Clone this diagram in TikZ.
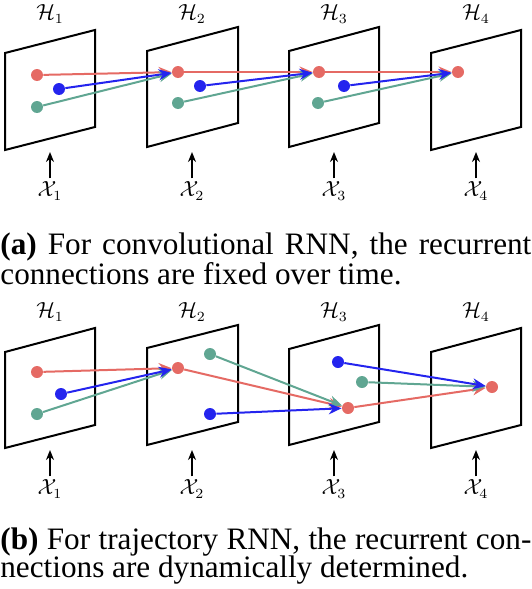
\documentclass[tikz,border=0pt]{standalone}
\usepackage{amsmath}
\usepackage{fontspec}
\setmainfont{Liberation Serif}
\usetikzlibrary{arrows.meta, positioning}

\definecolor{trajred}{RGB}{229,106,100}
\definecolor{trajblue}{RGB}{36,36,238}
\definecolor{trajgreen}{RGB}{96,166,146}

\tikzset{
    plane/.style={draw, line width=1pt, line join=miter},
    spot/.style={circle, inner sep=0pt, minimum size=6pt},
    flow/.style={line width=1pt, -{Stealth[length=6.5pt, width=5.5pt]}},
    feed/.style={line width=0.9pt, -{Stealth[length=5pt, width=4pt]}},
    lab/.style={inner sep=1.5pt, font=\fontsize{10.5}{11}\selectfont},
    captext/.style={inner sep=0pt, text width=265.5pt, align=justify, font=\fontsize{15.6}{14.2}\selectfont},
}

\begin{document}
\begin{tikzpicture}[x=0.5pt, y=-0.5pt]
    \useasboundingbox (0,0) rectangle (531,589);

    % (a) convolutional RNN
    \draw[plane] (5,53) -- (95,30) -- (95,127) -- (5,150) -- cycle;
    \draw[plane] (147,51) -- (238,27) -- (238,123) -- (147,147) -- cycle;
    \draw[plane] (289,51) -- (379,27) -- (379,123) -- (289,147) -- cycle;
    \draw[plane] (431,53) -- (521,30) -- (521,127) -- (431,150) -- cycle;

    \node[lab] (ha1) at (50,14) {$\mathcal{H}_1$};
    \node[lab] (ha2) at (192,14) {$\mathcal{H}_2$};
    \node[lab] (ha3) at (334,14) {$\mathcal{H}_3$};
    \node[lab] (ha4) at (476,14) {$\mathcal{H}_4$};

    \node[lab] (xa1) at (50,191) {$\mathcal{X}_1$};
    \node[lab] (xa2) at (192,191) {$\mathcal{X}_2$};
    \node[lab] (xa3) at (334,191) {$\mathcal{X}_3$};
    \node[lab] (xa4) at (476,191) {$\mathcal{X}_4$};
    \coordinate (ta1) at (50,152);
    \coordinate (ta2) at (192,152);
    \coordinate (ta3) at (334,152);
    \coordinate (ta4) at (476,152);
    \draw[feed] (xa1) to (ta1);
    \draw[feed] (xa2) to (ta2);
    \draw[feed] (xa3) to (ta3);
    \draw[feed] (xa4) to (ta4);

    \node[spot, fill=trajred] (ar1) at (37,75) {};
    \node[spot, fill=trajblue] (ab1) at (59,89) {};
    \node[spot, fill=trajgreen] (ag1) at (37,107) {};
    \node[spot, fill=trajred] (ar2) at (178,72) {};
    \node[spot, fill=trajblue] (ab2) at (200,86) {};
    \node[spot, fill=trajgreen] (ag2) at (178,103) {};
    \node[spot, fill=trajred] (ar3) at (319,72) {};
    \node[spot, fill=trajblue] (ab3) at (344,86) {};
    \node[spot, fill=trajgreen] (ag3) at (318,103) {};
    \node[spot, fill=trajred] (ar4) at (458,72) {};

    \draw[flow, trajred] (ar1) to (ar2);
    \draw[flow, trajred] (ar2) to (ar3);
    \draw[flow, trajred] (ar3) to (ar4);
    \draw[flow, trajgreen] (ag1) to (ar2);
    \draw[flow, trajgreen] (ag2) to (ar3);
    \draw[flow, trajgreen] (ag3) to (ar4);
    \draw[flow, trajblue] (ab1) to (ar2);
    \draw[flow, trajblue] (ab2) to (ar3);
    \draw[flow, trajblue] (ab3) to (ar4);

    \node[captext, anchor=north west] (capa) at (0,232)
        {\textbf{(a)} For convolutional RNN, the recurrent\linebreak connections are fixed over time.};

    % (b) trajectory RNN
    \draw[plane] (5,352) -- (95,328) -- (95,425) -- (5,448) -- cycle;
    \draw[plane] (147,348) -- (238,325) -- (238,422) -- (147,445) -- cycle;
    \draw[plane] (289,349) -- (379,325) -- (379,422) -- (289,445) -- cycle;
    \draw[plane] (431,352) -- (521,328) -- (521,425) -- (431,448) -- cycle;

    \node[lab] (hb1) at (50,312) {$\mathcal{H}_1$};
    \node[lab] (hb2) at (192,312) {$\mathcal{H}_2$};
    \node[lab] (hb3) at (334,312) {$\mathcal{H}_3$};
    \node[lab] (hb4) at (476,312) {$\mathcal{H}_4$};

    \node[lab] (xb1) at (50,489) {$\mathcal{X}_1$};
    \node[lab] (xb2) at (192,489) {$\mathcal{X}_2$};
    \node[lab] (xb3) at (334,489) {$\mathcal{X}_3$};
    \node[lab] (xb4) at (476,489) {$\mathcal{X}_4$};
    \coordinate (tb1) at (50,450);
    \coordinate (tb2) at (192,450);
    \coordinate (tb3) at (334,450);
    \coordinate (tb4) at (476,450);
    \draw[feed] (xb1) to (tb1);
    \draw[feed] (xb2) to (tb2);
    \draw[feed] (xb3) to (tb3);
    \draw[feed] (xb4) to (tb4);

    \node[spot, fill=trajred] (br1) at (37,372) {};
    \node[spot, fill=trajblue] (bb1) at (61,394) {};
    \node[spot, fill=trajgreen] (bg1) at (37,414) {};
    \node[spot, fill=trajred] (br2) at (178,368) {};
    \node[spot, fill=trajgreen] (bg2) at (210,354) {};
    \node[spot, fill=trajblue] (bb2) at (210,414) {};
    \node[spot, fill=trajblue] (bb3) at (338,362) {};
    \node[spot, fill=trajgreen] (bg3) at (362,382) {};
    \node[spot, fill=trajred] (br3) at (348,408) {};
    \node[spot, fill=trajred] (br4) at (492,387) {};

    \draw[flow, trajred] (br1) to (br2);
    \draw[flow, trajred] (br2) to (br3);
    \draw[flow, trajred] (br3) to (br4);
    \draw[flow, trajgreen] (bg1) to (br2);
    \draw[flow, trajgreen] (bg2) to (br3);
    \draw[flow, trajgreen] (bg3) to (br4);
    \draw[flow, trajblue] (bb1) to (br2);
    \draw[flow, trajblue] (bb2) to (br3);
    \draw[flow, trajblue] (bb3) to (br4);

    \node[captext, anchor=north west] (capb) at (0,527)
        {\textbf{(b)} For trajectory RNN, the recurrent con-\linebreak nections are dynamically determined.};
\end{tikzpicture}
\end{document}
